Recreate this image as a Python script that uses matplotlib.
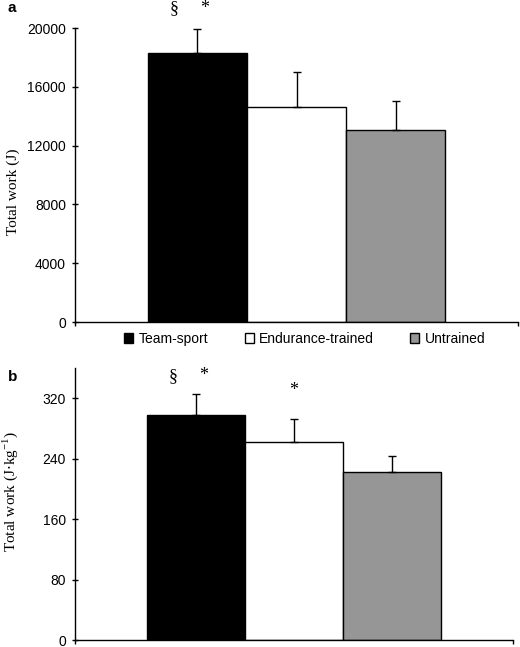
import matplotlib
matplotlib.use("Agg")
import matplotlib.pyplot as plt
from matplotlib.patches import Patch

# Data
groups = ["Team-sport", "Endurance-trained", "Untrained"]
colours = ["#000000", "#ffffff", "#969696"]

work_j = [18300, 14600, 13050]
work_j_err = [1600, 2400, 1950]

work_jkg = [298, 262, 222]
work_jkg_err = [28, 31, 21]

# annotations: (group index, symbol, x offset, y value)
marks_a = [(0, "§", -0.053, 21300), (0, "*", 0.017, 21300)]
marks_b = [(0, "§", -0.053, 348), (0, "*", 0.017, 350), (1, "*", 0.0, 330)]

W, H = 520, 647
fig = plt.figure(figsize=(W / 100, H / 100), dpi=100)

sans = "Liberation Sans"
serif = "Liberation Serif"


def panel(rect, vals, errs, ylim, ticks, ylabel, label_y, marks, letter, letter_y):
    ax = fig.add_axes(rect)
    bw = 0.2235
    xs = [-bw, 0, bw]
    ax.bar(xs, vals, width=bw, color=colours, edgecolor="black", linewidth=1.0, zorder=2)
    ax.errorbar(xs, vals, yerr=[[0, 0, 0], errs], fmt="none", ecolor="black",
                elinewidth=1.0, capsize=2.6, capthick=1.0, zorder=3)
    ax.set_xlim(-0.5, 0.5)
    ax.set_ylim(*ylim)
    ax.set_yticks(ticks)
    ax.set_yticklabels([str(t) for t in ticks], fontfamily=sans, fontsize=10)
    ax.set_xticks([-0.5, 0.5])
    ax.set_xticklabels([])
    ax.tick_params(axis="x", direction="out", length=3, width=1)
    ax.tick_params(axis="y", direction="inout", length=5, width=1, pad=4)
    for s in ("top", "right"):
        ax.spines[s].set_visible(False)
    for s in ("left", "bottom"):
        ax.spines[s].set_linewidth(1.0)
    ax.set_ylabel(ylabel, fontfamily=serif, fontsize=11)
    ax.yaxis.set_label_coords((20 - 75) / (rect[2] * W), label_y)
    for gi, sym, dx, yv in marks:
        ax.text(xs[gi] + dx, yv, sym, ha="center", va="center",
                fontfamily=serif, fontsize=13, clip_on=False)
    fig.text(8 / W, letter_y, letter, fontfamily=sans, fontweight="bold",
             fontsize=11, ha="left", va="top")
    return ax


# panel a: axes from x 75..518, y 28..322
panel([75 / W, 1 - 322 / H, 443 / W, 294 / H], work_j, work_j_err,
      (0, 20000), [0, 4000, 8000, 12000, 16000, 20000], "Total work (J)", 0.442,
      marks_a, "a", 1 - 1 / H)

# panel b: axes from x 75..513, y 368..640
panel([75 / W, 1 - 640 / H, 438 / W, 272 / H], work_jkg, work_jkg_err,
      (0, 360), [0, 80, 160, 240, 320], r"Total work (J$\cdot$kg$^{\mathregular{-1}}$)", 0.547,
      marks_b, "b", 1 - 370 / H)

handles = [Patch(facecolor=c, edgecolor="black", linewidth=1.0) for c in colours]
fig.legend(handles, groups, loc="center", bbox_to_anchor=(305 / W, 1 - 339 / H),
           ncol=3, frameon=False, handlelength=0.65, handleheight=0.65,
           handletextpad=0.4, columnspacing=2.6,
           prop={"family": sans, "size": 10})

fig.savefig("out.png", dpi=100)
